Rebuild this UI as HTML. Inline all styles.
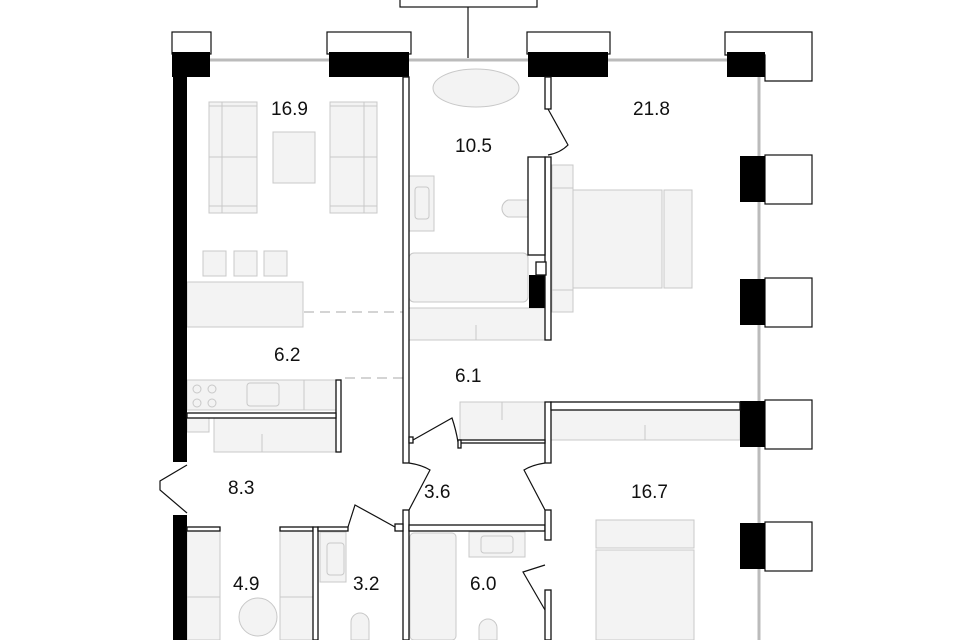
<!DOCTYPE html>
<html><head><meta charset="utf-8"><style>
html,body{margin:0;padding:0;background:#fff;width:960px;height:640px;overflow:hidden}
text{font-family:"Liberation Sans",sans-serif;font-size:19px;fill:#111}
</style></head><body>
<svg width="960" height="640" viewBox="0 0 960 640" xmlns="http://www.w3.org/2000/svg">
<g fill="#f3f3f3" stroke="#c8c8c8" stroke-width="1">
<rect x="209" y="102" width="48" height="111"/><line x1="222" y1="102" x2="222" y2="213"/><line x1="209" y1="157" x2="257" y2="157"/><line x1="209" y1="106" x2="257" y2="106"/><line x1="209" y1="206" x2="257" y2="206"/>
<rect x="330" y="102" width="47" height="111"/><line x1="364" y1="102" x2="364" y2="213"/><line x1="330" y1="157" x2="377" y2="157"/><line x1="330" y1="106" x2="377" y2="106"/><line x1="330" y1="206" x2="377" y2="206"/>
<rect x="273" y="132" width="42" height="51"/>
<rect x="203" y="251" width="23" height="25"/><rect x="234" y="251" width="23" height="25"/><rect x="264" y="251" width="23" height="25"/>
<rect x="187" y="282" width="116" height="45"/>
<rect x="187" y="380" width="149" height="30"/><line x1="304" y1="380" x2="304" y2="410"/>
<rect x="247" y="383" width="32" height="23" rx="3"/>
<circle cx="197" cy="389" r="4"/><circle cx="212" cy="389" r="4"/><circle cx="197" cy="403" r="4"/><circle cx="212" cy="403" r="4"/>
<rect x="214" y="418" width="122" height="34"/><line x1="262" y1="434" x2="262" y2="452"/>
<rect x="187" y="418" width="22" height="14"/>
<ellipse cx="476" cy="88" rx="43" ry="19"/>
<rect x="409" y="176" width="25" height="55"/><rect x="415" y="187" width="14" height="32" rx="3"/>
<path d="M528 200 H508 a9 9 0 0 0 0 17 H528 Z"/>
<rect x="409" y="253" width="119" height="49" rx="5"/>
<rect x="409" y="308" width="136" height="32"/><line x1="476" y1="325" x2="476" y2="340"/>
<rect x="552" y="165" width="21" height="23"/><rect x="552" y="290" width="21" height="22"/>
<rect x="552" y="188" width="21" height="102"/>
<rect x="573" y="190" width="89" height="98"/>
<rect x="664" y="190" width="28" height="98"/>
<rect x="460" y="402" width="85" height="38"/><line x1="502" y1="402" x2="502" y2="420"/>
<rect x="551" y="410" width="189" height="30"/><line x1="645" y1="425" x2="645" y2="440"/>
<rect x="187" y="530" width="33" height="110"/><line x1="187" y1="597" x2="220" y2="597"/>
<rect x="280" y="530" width="33" height="110"/><line x1="280" y1="597" x2="313" y2="597"/>
<circle cx="258" cy="617" r="19"/>
<rect x="320" y="532" width="26" height="50"/><rect x="327" y="543" width="17" height="32" rx="3"/>
<path d="M351 640 V622 a9 9 0 0 1 18 0 V640 Z"/>
<rect x="410" y="533" width="46" height="107" rx="4"/>
<rect x="469" y="532" width="56" height="25"/><rect x="481" y="536" width="32" height="17" rx="3"/>
<path d="M479 640 V628 a9 9 0 0 1 18 0 V640 Z"/>
<rect x="596" y="520" width="98" height="28"/><rect x="596" y="550" width="98" height="90"/>
</g>
<g fill="none" stroke="#bbb" stroke-width="1.2" stroke-dasharray="10,6">
<line x1="304" y1="312" x2="403" y2="312"/><line x1="345" y1="378" x2="403" y2="378"/>
</g>
<g stroke="#bbb" stroke-width="3"><line x1="210" y1="60" x2="728" y2="60"/><line x1="759" y1="77" x2="759" y2="640"/></g>
<g stroke="#111" stroke-width="1.2" fill="#fff">
<rect x="400" y="-2" width="137" height="9"/><line x1="468" y1="7" x2="468" y2="58"/>
<rect x="172" y="32" width="39" height="22"/>
<rect x="327" y="32" width="84" height="22"/>
<rect x="527" y="32" width="83" height="22"/>
<path d="M725 32 H812 V81 H765 V55 H725 Z"/>
<rect x="765" y="155" width="47" height="49"/>
<rect x="765" y="278" width="47" height="49"/>
<rect x="765" y="400" width="47" height="49"/>
<rect x="765" y="522" width="47" height="49"/>
</g>
<g fill="#000">
<rect x="172" y="52" width="38" height="25"/>
<rect x="173" y="52" width="14" height="410"/>
<rect x="173" y="515" width="14" height="125"/>
<rect x="329" y="52" width="80" height="25"/>
<rect x="528" y="52" width="80" height="25"/>
<rect x="727" y="52" width="38" height="25"/>
<rect x="740" y="156" width="25" height="46"/>
<rect x="740" y="279" width="25" height="46"/>
<rect x="740" y="401" width="25" height="46"/>
<rect x="740" y="523" width="25" height="46"/>
<rect x="529" y="275" width="22" height="33"/>
</g>
<g fill="#fff" stroke="#111" stroke-width="1.3">
<rect x="403" y="77" width="6" height="386"/>
<rect x="545" y="77" width="6" height="32"/>
<rect x="545" y="157" width="6" height="183"/>
<rect x="528" y="157" width="17" height="98"/>
<rect x="536" y="262" width="10" height="13"/>
<rect x="336" y="380" width="5" height="72"/>
<rect x="187" y="413" width="149" height="5"/>
<rect x="545" y="402" width="6" height="61"/>
<rect x="551" y="402" width="189" height="8"/>
<rect x="459" y="440" width="86" height="3"/>
<rect x="403" y="510" width="6" height="130"/>
<rect x="409" y="525" width="136" height="6"/>
<rect x="545" y="510" width="6" height="30"/>
<rect x="545" y="590" width="6" height="50"/>
<rect x="187" y="527" width="33" height="4"/>
<rect x="280" y="527" width="33" height="4"/>
<rect x="313" y="527" width="5" height="113"/>
<rect x="318" y="527" width="30" height="4"/>
<rect x="395" y="524" width="8" height="7"/>
<rect x="409" y="437" width="4" height="6"/>
<rect x="458" y="440" width="3" height="8"/>
</g>
<g fill="none" stroke="#111" stroke-width="1.2">
<path d="M548 109 L568 145 Q560 153 548 155"/>
<path d="M413 440 L452 418 Q456 430 458 442"/>
<path d="M409 463 Q422 465 430 470 L409 510"/>
<path d="M545 463 Q532 465 524 470 L545 510"/>
<path d="M187 465 L160 481 L160 490 L187 513"/>
<path d="M348 527 L355 505 L395 527"/>
<path d="M545 565 L523 572 L545 610"/>
</g>
<text x="271" y="115">16.9</text>
<text x="455" y="152">10.5</text>
<text x="633" y="115">21.8</text>
<text x="274" y="361">6.2</text>
<text x="455" y="382">6.1</text>
<text x="228" y="494">8.3</text>
<text x="424" y="498">3.6</text>
<text x="631" y="498">16.7</text>
<text x="233" y="590">4.9</text>
<text x="353" y="590">3.2</text>
<text x="470" y="590">6.0</text>
</svg>
</body></html>
